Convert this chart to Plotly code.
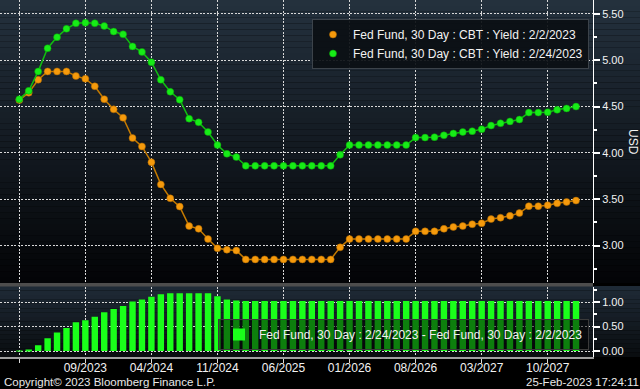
import plotly.graph_objects as go
import pandas as pd

FONT = "Liberation Sans, Arial, sans-serif"

# ---------------- data ----------------
months = [d.strftime("%Y-%m") for d in pd.date_range("2023-02-01", periods=60, freq="MS")]

yield_0202 = [4.57, 4.65, 4.79, 4.88, 4.88, 4.88, 4.83, 4.80, 4.72, 4.58,
              4.47, 4.38, 4.16, 4.07, 3.90, 3.66, 3.51, 3.42, 3.21, 3.18,
              3.07, 2.97, 2.955, 2.945, 2.85, 2.85, 2.85, 2.85, 2.85, 2.85,
              2.85, 2.85, 2.85, 2.85, 2.98, 3.07, 3.07, 3.07, 3.07, 3.07,
              3.07, 3.07, 3.153, 3.153, 3.153, 3.18, 3.20, 3.21, 3.23, 3.24,
              3.285, 3.30, 3.32, 3.35, 3.425, 3.425, 3.435, 3.455, 3.47, 3.485]

yield_0224 = [4.58, 4.67, 4.88, 5.13, 5.25, 5.34, 5.40, 5.405, 5.40, 5.37,
              5.31, 5.28, 5.15, 5.09, 4.98, 4.79, 4.66, 4.575, 4.37, 4.33,
              4.225, 4.085, 3.99, 3.955, 3.86, 3.86, 3.86, 3.86, 3.86, 3.86,
              3.86, 3.86, 3.86, 3.86, 3.98, 4.085, 4.085, 4.085, 4.085, 4.085,
              4.085, 4.085, 4.165, 4.165, 4.17, 4.19, 4.21, 4.225, 4.235, 4.255,
              4.295, 4.32, 4.34, 4.36, 4.435, 4.435, 4.44, 4.465, 4.48, 4.50]

spread = [0.01, 0.03, 0.12, 0.26, 0.38, 0.47, 0.59, 0.63, 0.70, 0.79,
          0.86, 0.92, 1.01, 1.05, 1.11, 1.16, 1.18, 1.18, 1.18, 1.18,
          1.18, 1.12, 1.05, 1.03, 1.02, 1.02, 1.02, 1.02, 1.02, 1.02,
          1.02, 1.02, 1.02, 1.02, 1.02, 1.02, 1.02, 1.02, 1.02, 1.02,
          1.02, 1.02, 1.02, 1.02, 1.02, 1.02, 1.02, 1.02, 1.02, 1.02,
          1.02, 1.02, 1.02, 1.02, 1.02, 1.02, 1.02, 1.02, 1.02, 1.02]

tick_months = ["2023-02", "2023-09", "2024-04", "2024-11", "2025-06",
               "2026-01", "2026-08", "2027-03", "2027-10"]
tick_labels = ["", "09/2023", "04/2024", "11/2024", "06/2025",
               "01/2026", "08/2026", "03/2027", "10/2027"]
top_ticks = [3.00, 3.50, 4.00, 4.50, 5.00, 5.50]
bottom_ticks = [0.00, 0.50, 1.00]

name_0202 = "Fed Fund, 30 Day : CBT : Yield : 2/2/2023"
name_0224 = "Fed Fund, 30 Day : CBT : Yield : 2/24/2023"
name_spread = "Fed Fund, 30 Day : 2/24/2023 - Fed Fund, 30 Day : 2/2/2023"

# ---------------- geometry (pixels) ----------------
W, H = 640, 389
ML, MR, MT, MB = 0, 47, 0, 32
PW, PH = W - ML - MR, H - MT - MB   # 593 x 357


def py(p):  # pixel y -> paper y
    return (PH - p) / PH


def px(p):  # pixel x -> paper x
    return p / PW


ORANGE = "#f59a0c"
ORANGE_LINE = "#c47a00"
GREEN = "#17ec17"
GREEN_LINE = "#10bf10"
BAR_GREEN = "#1aff1a"

fig = go.Figure()

fig.add_trace(go.Scatter(x=months, y=yield_0202, mode="lines",
                         line=dict(color=ORANGE_LINE, width=1.5),
                         showlegend=False, hoverinfo="skip"))
fig.add_trace(go.Scatter(x=months, y=yield_0202, mode="markers", name=name_0202,
                         marker=dict(color=ORANGE, size=7,
                                     line=dict(color="#a86400", width=0.5))))
fig.add_trace(go.Scatter(x=months, y=yield_0224, mode="lines",
                         line=dict(color=GREEN_LINE, width=1.5),
                         showlegend=False, hoverinfo="skip"))
fig.add_trace(go.Scatter(x=months, y=yield_0224, mode="markers", name=name_0224,
                         marker=dict(color=GREEN, size=7,
                                     line=dict(color="#0a9a0a", width=0.5))))
fig.add_trace(go.Bar(x=months, y=spread, name=name_spread, xaxis="x2", yaxis="y2",
                     marker=dict(color=BAR_GREEN, line=dict(width=0)), width=0.68,
                     legend="legend2"))

# ---------------- background gradient ----------------
shapes = []


def gradient(p0, p1, c0, c1, n):
    for i in range(n):
        a = p0 + (p1 - p0) * i / n
        b = p0 + (p1 - p0) * (i + 1) / n
        t = (i + 0.5) / n
        col = "rgb(%d,%d,%d)" % tuple(round(c0[k] + (c1[k] - c0[k]) * t) for k in range(3))
        shapes.append(dict(type="rect", xref="paper", yref="paper",
                           x0=0, x1=W / PW, y0=py(b), y1=py(a),
                           fillcolor=col, line=dict(width=0), layer="below"))


gradient(0, 283, (36, 49, 62), (3, 4, 6), 48)
gradient(286, 357, (31, 43, 55), (9, 12, 15), 16)
# splitter bar between the panels
shapes.append(dict(type="rect", xref="paper", yref="paper", x0=0, x1=1,
                   y0=py(286.5), y1=py(283), fillcolor="#4d4d4d",
                   line=dict(width=0), layer="below"))

grid = dict(showgrid=True, gridcolor="#d8d8d8", gridwidth=1, griddash="2px,1.5px")

fig.update_layout(
    width=W, height=H,
    margin=dict(l=ML, r=MR, t=MT, b=MB),
    paper_bgcolor="#000000",
    plot_bgcolor="rgba(0,0,0,0)",
    font=dict(family=FONT, color="#f2f2f2", size=11),
    shapes=shapes,
    bargap=0.3,
    xaxis=dict(domain=[0, 1], anchor="y", type="category",
               range=[-2.045, 60.8], tickmode="array",
               tickvals=tick_months, ticktext=tick_labels,
               showticklabels=False, zeroline=False, showline=False, ticks="",
               **grid),
    xaxis2=dict(domain=[0, 1], anchor="y2", type="category", matches="x",
                range=[-2.045, 60.8], tickmode="array",
                tickvals=tick_months, ticktext=tick_labels,
                showticklabels=True, tickfont=dict(size=12, color="#f2f2f2"),
                ticks="outside", ticklen=4, tickcolor="#d8d8d8", tickwidth=1,
                ticklabelstandoff=-5,
                showline=True, linecolor="#a0a0a0", linewidth=1.5,
                zeroline=False, **grid),
    yaxis=dict(domain=[py(283), 1], anchor="x", side="right",
               range=[2.595, 5.651], tickmode="array", tickvals=top_ticks,
               ticktext=["%.2f" % v for v in top_ticks],
               ticks="outside", ticklen=6, tickwidth=2, tickcolor="#ffffff",
               minor=dict(ticks="outside", ticklen=3, tickcolor="#ffffff",
                          dtick=0.25, tick0=0, showgrid=False),
               showline=True, linecolor="#ffffff", linewidth=1,
               tickfont=dict(size=11, color="#f2f2f2"),
               zeroline=False, **grid),
    yaxis2=dict(domain=[0, py(286.5)], anchor="x2", side="right",
                range=[-0.1217, 1.318], tickmode="array", tickvals=bottom_ticks,
                ticktext=["%.2f" % v for v in bottom_ticks],
                ticks="outside", ticklen=6, tickwidth=2, tickcolor="#ffffff",
                minor=dict(ticks="outside", ticklen=3, tickcolor="#ffffff",
                           dtick=0.25, tick0=0, showgrid=False),
                showline=True, linecolor="#ffffff", linewidth=1,
                tickfont=dict(size=11, color="#f2f2f2"),
                zeroline=False, **grid),
    legend=dict(x=px(589), xanchor="right", y=py(19), yanchor="top",
                bgcolor="rgba(11,15,19,0.92)", bordercolor="#3c434a", borderwidth=1,
                font=dict(size=12, color="#f2f2f2", family=FONT),
                itemwidth=30, tracegroupgap=0),
    legend2=dict(x=px(589), xanchor="right", y=py(350), yanchor="bottom",
                 bgcolor="rgba(0,0,0,0.5)", bordercolor="#3a3a3a", borderwidth=1,
                 font=dict(size=12, color="#f2f2f2", family=FONT),
                 itemwidth=30),
    annotations=[
        dict(text="USD", xref="paper", yref="paper", x=px(633), y=py(142),
             showarrow=False, textangle=90, font=dict(size=12, color="#f2f2f2"),
             xanchor="center", yanchor="middle"),
        dict(text="Copyright\u00a9 2023 Bloomberg Finance L.P.", xref="paper", yref="paper",
             x=px(2), y=py(382), showarrow=False, xanchor="left", yanchor="middle",
             font=dict(size=11.5, color="#e8e8e8")),
        dict(text="25-Feb-2023 17:24:11", xref="paper", yref="paper",
             x=px(641), y=py(382), showarrow=False, xanchor="right", yanchor="middle",
             font=dict(size=11.5, color="#e8e8e8")),
    ],
)

fig.write_html("out.html", config={"displayModeBar": False},
               post_script="document.body.style.margin='0';document.body.style.overflow='hidden';")
